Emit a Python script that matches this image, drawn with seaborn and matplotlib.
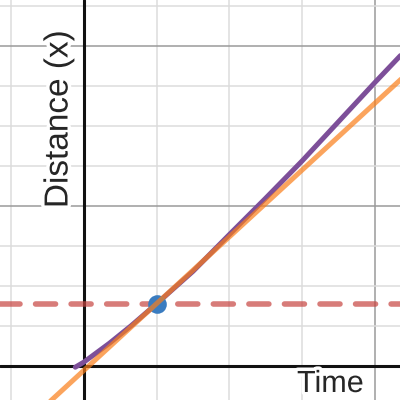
import matplotlib
matplotlib.use('Agg')
import matplotlib.pyplot as plt
import matplotlib.patheffects as pe
import pandas as pd
import seaborn as sns

# Distance curve
time = [-0.12, 0.0, 0.35, 0.65, 1.0, 1.5, 2.0, 2.5, 3.0, 3.5, 4.0, 4.35]
distance = [-0.04, 0.09, 0.56, 1.0, 1.55, 2.36, 3.28, 4.19, 5.12, 6.1, 7.08, 7.75]

# Tangent line at the marked point
tangent_time = [-1.2, 4.4]
tangent_distance = [-2.12, 7.23]

# Marked point and its level
point_time = [1.0]
point_distance = [1.55]
level = 1.55

# Grid positions
x_minor = [-1, 1, 2, 3]
x_major = [0, 4]
y_minor = [1, 2, 3, 5, 6, 7, 9]
y_major = [0, 4, 8]

curve = pd.DataFrame({'time': time, 'distance': distance})
tangent = pd.DataFrame({'time': tangent_time, 'distance': tangent_distance})
point = pd.DataFrame({'time': point_time, 'distance': point_distance})

sns.set_style('white')
plt.rcParams['font.family'] = ['Liberation Sans', 'DejaVu Sans']

fig = plt.figure(figsize=(4, 4), dpi=100)
ax = fig.add_axes([0, 0, 1, 1])

# Grid
ax.set_xticks(x_major)
ax.set_xticks(x_minor, minor=True)
ax.set_yticks(y_major)
ax.set_yticks(y_minor, minor=True)
ax.grid(which='minor', color='#dcdcdc', linewidth=1.1)
ax.grid(which='major', color='#9a9a9a', linewidth=1.1)
ax.set_axisbelow(True)
ax.tick_params(which='both', length=0, labelbottom=False, labelleft=False)
for s in ax.spines.values():
    s.set_visible(False)

# Axes through the origin
ax.axhline(0, color='#111111', linewidth=2.2, zorder=1)
ax.axvline(0, color='#111111', linewidth=2.2, zorder=1)

# Dashed level line
ax.axhline(level, color='#c74440', alpha=0.7, linewidth=4,
           linestyle=(0, (3.6, 2.8)), dash_capstyle='round', zorder=2)

# Curve, point and tangent
sns.lineplot(data=curve, x='time', y='distance', ax=ax, color='#7d4f99',
             linewidth=3.6, solid_capstyle='round', zorder=3)
sns.scatterplot(data=point, x='time', y='distance', ax=ax, color='#3a7cc0',
                s=180, linewidth=0, zorder=4)
sns.lineplot(data=tangent, x='time', y='distance', ax=ax, color='#fa7e19',
             alpha=0.7, linewidth=3.6, zorder=5)

ax.set_xlim(-1.155, 4.344)
ax.set_ylim(-0.86, 9.14)
ax.set_xlabel('')
ax.set_ylabel('')

halo = [pe.withStroke(linewidth=5, foreground='white')]
fig.text(0.7425, 0.02, 'Time', fontsize=22, ha='left', va='baseline',
         path_effects=halo, zorder=10)
fig.text(0.1475, 0.7025, 'Distance (x)', fontsize=24, rotation=90,
         ha='center', va='center', path_effects=halo, zorder=10)

fig.savefig('out.png', dpi=100)
